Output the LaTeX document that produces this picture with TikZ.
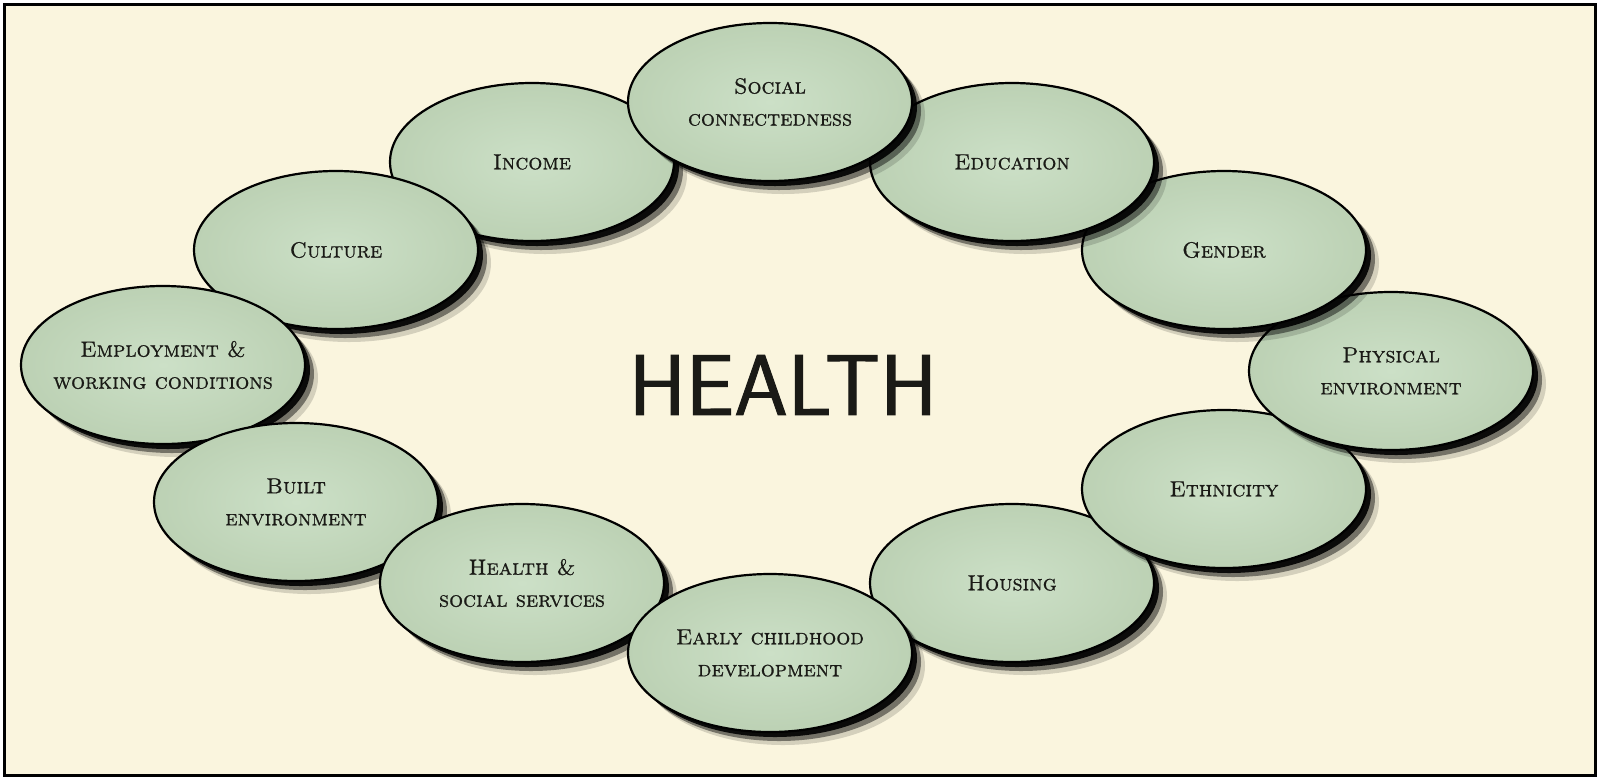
\documentclass[tikz,border=0pt]{standalone}
\usepackage{fontspec}
\newfontfamily\capsfont{Latin Modern Roman Caps}[FakeBold=0.8]
\newfontfamily\titlefont{Latin Modern Sans}[FakeBold=1.2]
\usetikzlibrary{shapes.geometric,shadows}
\definecolor{paper}{RGB}{250,245,222}
\definecolor{leaf}{RGB}{188,209,180}
\definecolor{leaflight}{RGB}{204,224,199}
\definecolor{ink}{RGB}{26,26,22}
\begin{document}
\begin{tikzpicture}[
x=1pt,y=-1pt,
factor/.style={ellipse,draw,line width=2.2pt,inner color=leaflight,outer color=leaf,
  minimum width=284pt,minimum height=158pt,inner xsep=-50pt,inner ysep=0pt,align=center,text=ink,
  font=\fontsize{22}{32}\selectfont\capsfont,
  general shadow={fill=black,opacity=.15,shadow xshift=13pt,shadow yshift=-13pt},
  general shadow={fill=black,opacity=.45,shadow xshift=9pt,shadow yshift=-9pt},
  general shadow={fill=black,opacity=.9,shadow xshift=5pt,shadow yshift=-5pt}},
title/.style={text=ink,inner sep=0pt,font=\fontsize{86}{88}\selectfont\titlefont}
]
\useasboundingbox (0,0) rectangle (1600,780);
\draw[line width=3pt,fill=paper] (4.5,4.5) rectangle (1595.5,775.5);

\node[title] (health) at (783,385) {HEALTH};

\node[factor] (housing) at (1012,583) {Housing};
\node[factor] (ethnic) at (1224,489) {Ethnicity};
\node[factor] (physical) at (1391,371) {Physical\\environment};
\node[factor] (gender) at (1224,250) {Gender};
\node[factor] (education) at (1012,162) {Education};
\node[factor] (income) at (532,162) {Income};
\node[factor] (culture) at (336,250) {Culture};
\node[factor] (employ) at (163,365) {Employment \&\\working conditions};
\node[factor] (built) at (296,502) {Built\\environment};
\node[factor] (services) at (522,583) {Health \&\\social services};
\node[factor] (early) at (770,653) {Early childhood\\development};
\node[factor] (social) at (770,102) {Social\\connectedness};

\end{tikzpicture}
\end{document}
